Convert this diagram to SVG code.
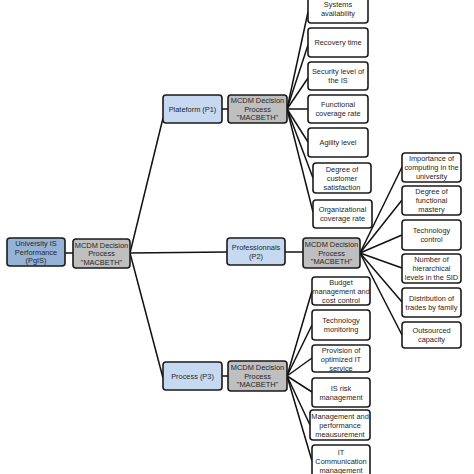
<svg xmlns="http://www.w3.org/2000/svg" width="474" height="474" viewBox="0 0 474 474">
<style>
.b{stroke:#1a1a1a;stroke-width:1.6}
.root{fill:#95b3d7}
.crit{fill:#c6d9f1}
.mc{fill:#bfbfbf}
.leaf{fill:#ffffff}
text{font-family:"Liberation Sans",Arial,sans-serif;font-size:7.4px;fill:#262626;text-anchor:middle;dominant-baseline:central}
.c line{stroke:#111;stroke-width:1.5}
</style>
<rect width="474" height="474" fill="#fff"/>
<g class="c" id="connectors">
<line x1="65" y1="253" x2="73" y2="253"/>
<line x1="130" y1="253" x2="163" y2="118"/>
<line x1="130" y1="253" x2="227" y2="252"/>
<line x1="130" y1="253" x2="163" y2="378"/>
<line x1="222" y1="109" x2="228" y2="109"/>
<line x1="285" y1="252" x2="303" y2="252"/>
<line x1="222" y1="376" x2="228" y2="376"/>
<line x1="287" y1="109" x2="308" y2="12"/>
<line x1="287" y1="109" x2="308" y2="45"/>
<line x1="287" y1="109" x2="308" y2="78"/>
<line x1="287" y1="109" x2="308" y2="109"/>
<line x1="287" y1="109" x2="308" y2="142"/>
<line x1="287" y1="109" x2="313" y2="178"/>
<line x1="287" y1="109" x2="313" y2="212"/>
<line x1="360" y1="253" x2="402" y2="167"/>
<line x1="360" y1="253" x2="402" y2="200"/>
<line x1="360" y1="253" x2="402" y2="235"/>
<line x1="360" y1="253" x2="402" y2="268"/>
<line x1="360" y1="253" x2="402" y2="302"/>
<line x1="360" y1="253" x2="402" y2="335"/>
<line x1="287" y1="376" x2="312" y2="291"/>
<line x1="287" y1="376" x2="312" y2="325"/>
<line x1="287" y1="376" x2="312" y2="358"/>
<line x1="287" y1="376" x2="312" y2="392"/>
<line x1="287" y1="376" x2="310" y2="425"/>
<line x1="287" y1="376" x2="312" y2="461"/>
</g>
<g id="root"><rect class="b root" x="7" y="238" width="58" height="28" rx="3"/><text x="36" y="243.5">University IS</text><text x="36" y="252">Performance</text><text x="36" y="260.5">(PgIS)</text></g>
<g id="mcdm0"><rect class="b mc" x="73" y="239" width="57" height="29" rx="3"/><text x="101.5" y="245">MCDM Decision</text><text x="101.5" y="253.5">Process</text><text x="101.5" y="262">"MACBETH"</text></g>
<g id="p1"><rect class="b crit" x="163" y="95" width="59" height="28" rx="3"/><text x="192.5" y="109">Plateform (P1)</text></g>
<g id="mcdm1"><rect class="b mc" x="228" y="95" width="59" height="28" rx="3"/><text x="257.5" y="100.5">MCDM Decision</text><text x="257.5" y="109">Process</text><text x="257.5" y="117.5">"MACBETH"</text></g>
<g id="p2"><rect class="b crit" x="227" y="238" width="58" height="27" rx="3"/><text x="256" y="247.5">Professionnals</text><text x="256" y="256">(P2)</text></g>
<g id="mcdm2"><rect class="b mc" x="303" y="238" width="57" height="30" rx="3"/><text x="331.5" y="244.5">MCDM Decision</text><text x="331.5" y="253">Process</text><text x="331.5" y="261.5">"MACBETH"</text></g>
<g id="p3"><rect class="b crit" x="163" y="362" width="59" height="28" rx="3"/><text x="192.5" y="376">Process (P3)</text></g>
<g id="mcdm3"><rect class="b mc" x="228" y="361" width="59" height="30" rx="3"/><text x="257.5" y="367.5">MCDM Decision</text><text x="257.5" y="376">Process</text><text x="257.5" y="384.5">"MACBETH"</text></g>
<g id="l1"><rect class="b leaf" x="308" y="-6" width="60" height="29" rx="3"/><text x="338" y="4">Systems</text><text x="338" y="13">availability</text></g>
<g id="l2"><rect class="b leaf" x="308" y="28" width="60" height="29" rx="3"/><text x="338" y="42.5">Recovery time</text></g>
<g id="l3"><rect class="b leaf" x="308" y="62" width="60" height="28" rx="3"/><text x="338" y="71.5">Security level of</text><text x="338" y="80.5">the IS</text></g>
<g id="l4"><rect class="b leaf" x="308" y="95" width="60" height="28" rx="3"/><text x="338" y="104.5">Functional</text><text x="338" y="113.5">coverage rate</text></g>
<g id="l5"><rect class="b leaf" x="308" y="128" width="60" height="29" rx="3"/><text x="338" y="142.5">Agility level</text></g>
<g id="l6"><rect class="b leaf" x="313" y="163" width="58" height="30" rx="3"/><text x="342" y="169">Degree of</text><text x="342" y="178">customer</text><text x="342" y="187">satisfaction</text></g>
<g id="l7"><rect class="b leaf" x="313" y="200" width="59" height="28" rx="3"/><text x="342.5" y="209.5">Organizational</text><text x="342.5" y="218.5">coverage rate</text></g>
<g id="m1"><rect class="b leaf" x="402" y="153" width="59" height="29" rx="3"/><text x="431.5" y="158.5">Importance of</text><text x="431.5" y="167.5">computing in the</text><text x="431.5" y="176.5">university</text></g>
<g id="m2"><rect class="b leaf" x="402" y="186" width="59" height="29" rx="3"/><text x="431.5" y="191.5">Degree of</text><text x="431.5" y="200.5">functional</text><text x="431.5" y="209.5">mastery</text></g>
<g id="m3"><rect class="b leaf" x="402" y="220" width="59" height="30" rx="3"/><text x="431.5" y="230.5">Technology</text><text x="431.5" y="239.5">control</text></g>
<g id="m4"><rect class="b leaf" x="402" y="254" width="59" height="29" rx="3"/><text x="431.5" y="259.5">Number of</text><text x="431.5" y="268.5">hierarchical</text><text x="431.5" y="277.5">levels in the SID</text></g>
<g id="m5"><rect class="b leaf" x="402" y="288" width="59" height="29" rx="3"/><text x="431.5" y="298">Distribution of</text><text x="431.5" y="307">trades by family</text></g>
<g id="m6"><rect class="b leaf" x="402" y="322" width="59" height="26" rx="3"/><text x="431.5" y="330.5">Outsourced</text><text x="431.5" y="339.5">capacity</text></g>
<g id="n1"><rect class="b leaf" x="312" y="277" width="58" height="28" rx="3"/><text x="341" y="282">Budget</text><text x="341" y="291">management and</text><text x="341" y="300">cost control</text></g>
<g id="n2"><rect class="b leaf" x="312" y="310" width="58" height="30" rx="3"/><text x="341" y="320.5">Technology</text><text x="341" y="329.5">monitoring</text></g>
<g id="n3"><rect class="b leaf" x="312" y="345" width="58" height="27" rx="3"/><text x="341" y="350">Provision of</text><text x="341" y="359">optimized IT</text><text x="341" y="368">service</text></g>
<g id="n4"><rect class="b leaf" x="312" y="378" width="58" height="29" rx="3"/><text x="341" y="388">IS risk</text><text x="341" y="397">management</text></g>
<g id="n5"><rect class="b leaf" x="310" y="410" width="60" height="30" rx="3"/><text x="340" y="416">Management and</text><text x="340" y="425">performance</text><text x="340" y="434">meausurement</text></g>
<g id="n6"><rect class="b leaf" x="312" y="445" width="58" height="33" rx="3"/><text x="341" y="452">IT</text><text x="341" y="461">Communication</text><text x="341" y="470">management</text></g>
</svg>
